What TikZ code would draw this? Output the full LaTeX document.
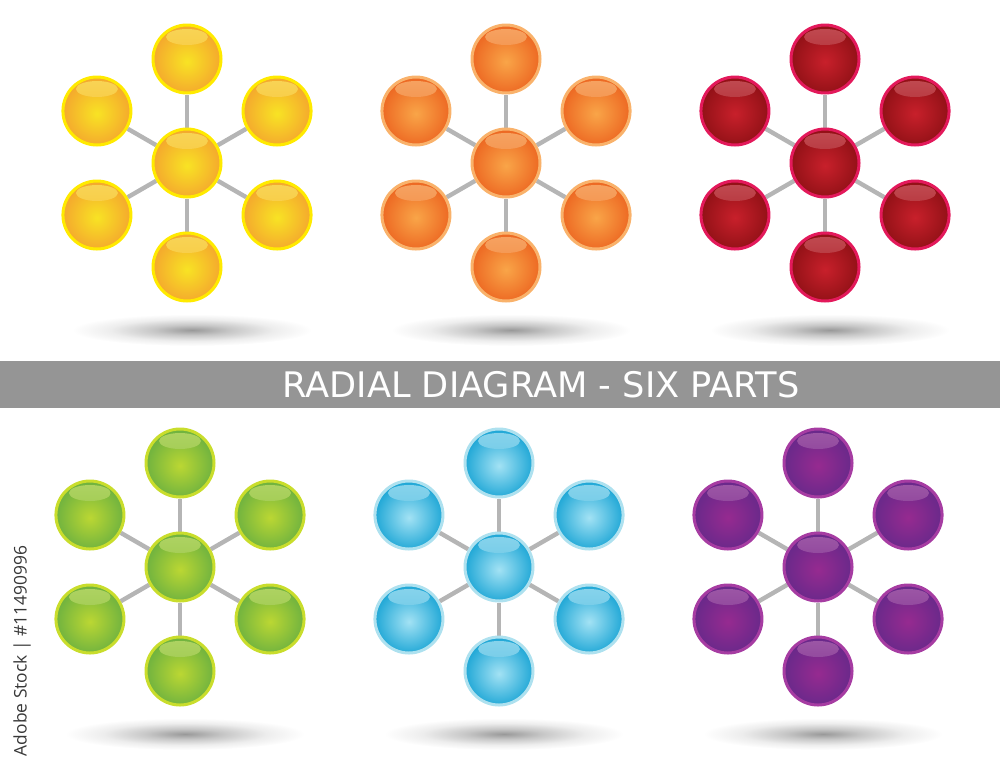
\documentclass[tikz,border=0pt]{standalone}
\usepackage{fontspec}
\usetikzlibrary{calc,backgrounds}
\newfontfamily\bannerfont{DejaVu Sans}
\newfontfamily\stockfont{Open Sans}

\definecolor{yellowin}{HTML}{F8E324}\definecolor{yellowout}{HTML}{F4A42E}\definecolor{yellowrim}{HTML}{FFEA00}
\definecolor{orangein}{HTML}{F9A548}\definecolor{orangeout}{HTML}{EC6420}\definecolor{orangerim}{HTML}{F9B26B}
\definecolor{redin}{HTML}{C8202B}\definecolor{redout}{HTML}{8E1015}\definecolor{redrim}{HTML}{E3195B}
\definecolor{greenin}{HTML}{BBD733}\definecolor{greenout}{HTML}{6AB040}\definecolor{greenrim}{HTML}{C9DD2C}
\definecolor{bluein}{HTML}{A3E2F4}\definecolor{blueout}{HTML}{16A3D4}\definecolor{bluerim}{HTML}{AEE1EF}
\definecolor{purplein}{HTML}{962A90}\definecolor{purpleout}{HTML}{66298A}\definecolor{purplerim}{HTML}{A63CA2}
\definecolor{spokegray}{HTML}{B5B5B5}
\definecolor{bannergray}{HTML}{959595}

\newcommand{\ballshading}[1]{%
  \pgfdeclareradialshading{#1ball}{\pgfpoint{0bp}{-2bp}}{color(0bp)=(#1in); color(27bp)=(#1out); color(50bp)=(#1out)}}
\ballshading{yellow}\ballshading{orange}\ballshading{red}
\ballshading{green}\ballshading{blue}\ballshading{purple}
\pgfdeclareradialshading{floorshadow}{\pgfpoint{0bp}{0bp}}{color(0bp)=(black!40); color(8bp)=(black!22); color(17bp)=(black!7); color(25bp)=(white); color(50bp)=(white)}

\tikzset{
  ball/.style={circle, inner sep=0pt, minimum size=34pt, draw=#1rim, line width=1.5pt,
    shading=#1ball,
    path picture={\shade[top color=white!40!#1out!55!#1in, bottom color=#1out!55!#1in]
      ([yshift=11pt]path picture bounding box.center) ellipse (10.5pt and 4pt);}},
  spoke/.style={draw=spokegray, line width=2.2pt},
  shadow/.style={shading=floorshadow}
}

\begin{document}
\begin{tikzpicture}[x=0.5pt, y=-0.5pt]
  \useasboundingbox (0,0) rectangle (1000,772);
  \foreach \p/\cx/\cy/\s in {yel/187/163/yellow, ora/506/163/orange, red/825/163/red,
                            grn/180/567/green, blu/499/567/blue, pur/818/567/purple} {
    \node[ball=\s] (\p-c) at (\cx,\cy) {};
    \foreach \a/\n in {-90/1,-30/2,30/3,90/4,150/5,210/6} {
      \node[ball=\s] (\p-\n) at ($(\p-c)+(\a:104)$) {};
    }
    \begin{scope}[on background layer]
      \path[shadow] ($(\p-c)+(5,167)$) ellipse (120 and 16);
      \foreach \n in {1,...,6} {
        \path[spoke] (\p-c) -- (\p-\n);
      }
    \end{scope}
  }
  \fill[bannergray] (0,361) rectangle (1000,408);
  \node[text=white, font=\bannerfont\fontsize{17.6pt}{19pt}\selectfont] (title) at (541,385) {RADIAL DIAGRAM - SIX PARTS};
  \node[rotate=90, text=black!78, font=\stockfont\fontsize{8.7pt}{10pt}\selectfont] (stock) at (22,651) {Adobe Stock | \#11490996};
\end{tikzpicture}
\end{document}
